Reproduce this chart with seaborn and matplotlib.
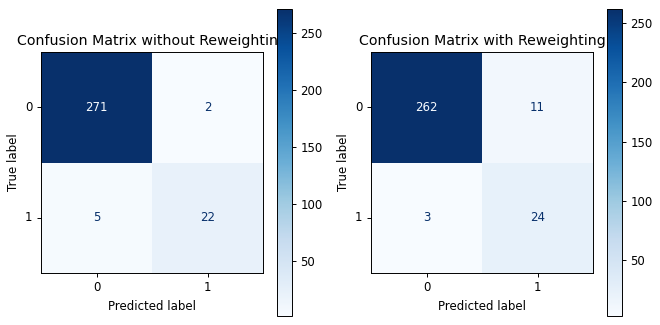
import numpy as np
import matplotlib
matplotlib.use("Agg")
import matplotlib.pyplot as plt
import seaborn as sns

labels = ["0", "1"]
cm_without = [[271, 2], [5, 22]]
cm_with = [[262, 11], [3, 24]]
titles = ["Confusion Matrix without Reweighting", "Confusion Matrix with Reweighting"]

fig = plt.figure(figsize=(6.6, 3.25), dpi=100)
W, H = 660.0, 325.0
ax_px = [(41, 52, 222, 221), (371, 52, 222, 221)]
cb_px = [(277, 9, 15, 307), (607, 9, 15, 307)]
cmap = plt.get_cmap("Blues")
fs = 8.5
lw = 0.7

for data, title, a, c in zip([cm_without, cm_with], titles, ax_px, cb_px):
    arr = np.array(data)
    ax = fig.add_axes([a[0] / W, (H - a[1] - a[3]) / H, a[2] / W, a[3] / H])
    cax = fig.add_axes([c[0] / W, (H - c[1] - c[3]) / H, c[2] / W, c[3] / H])
    vmin, vmax = arr.min(), arr.max()
    sns.heatmap(arr, ax=ax, cbar_ax=cax, cmap="Blues", annot=True, fmt="d",
                vmin=vmin, vmax=vmax, xticklabels=labels, yticklabels=labels,
                annot_kws={"fontsize": fs}, square=False)
    thresh = (vmin + vmax) / 2.0
    for t in ax.texts:
        v = int(t.get_text())
        t.set_color(cmap(0.0) if v > thresh else cmap(1.0))
    for s in ax.spines.values():
        s.set_visible(True)
        s.set_linewidth(lw)
        s.set_color("black")
    ax.tick_params(axis="both", length=3, width=lw, labelsize=fs, rotation=0, pad=3)
    ax.set_xlabel("Predicted label", fontsize=fs)
    ax.set_ylabel("True label", fontsize=fs)
    ax.set_title(title, fontsize=10.2, pad=5)
    cbar = ax.collections[0].colorbar
    cbar.outline.set_linewidth(lw)
    cbar.outline.set_edgecolor("black")
    cbar.set_ticks([50, 100, 150, 200, 250])
    cax.tick_params(length=3, width=lw, labelsize=fs, pad=3)

fig.savefig("out.png", dpi=100)
